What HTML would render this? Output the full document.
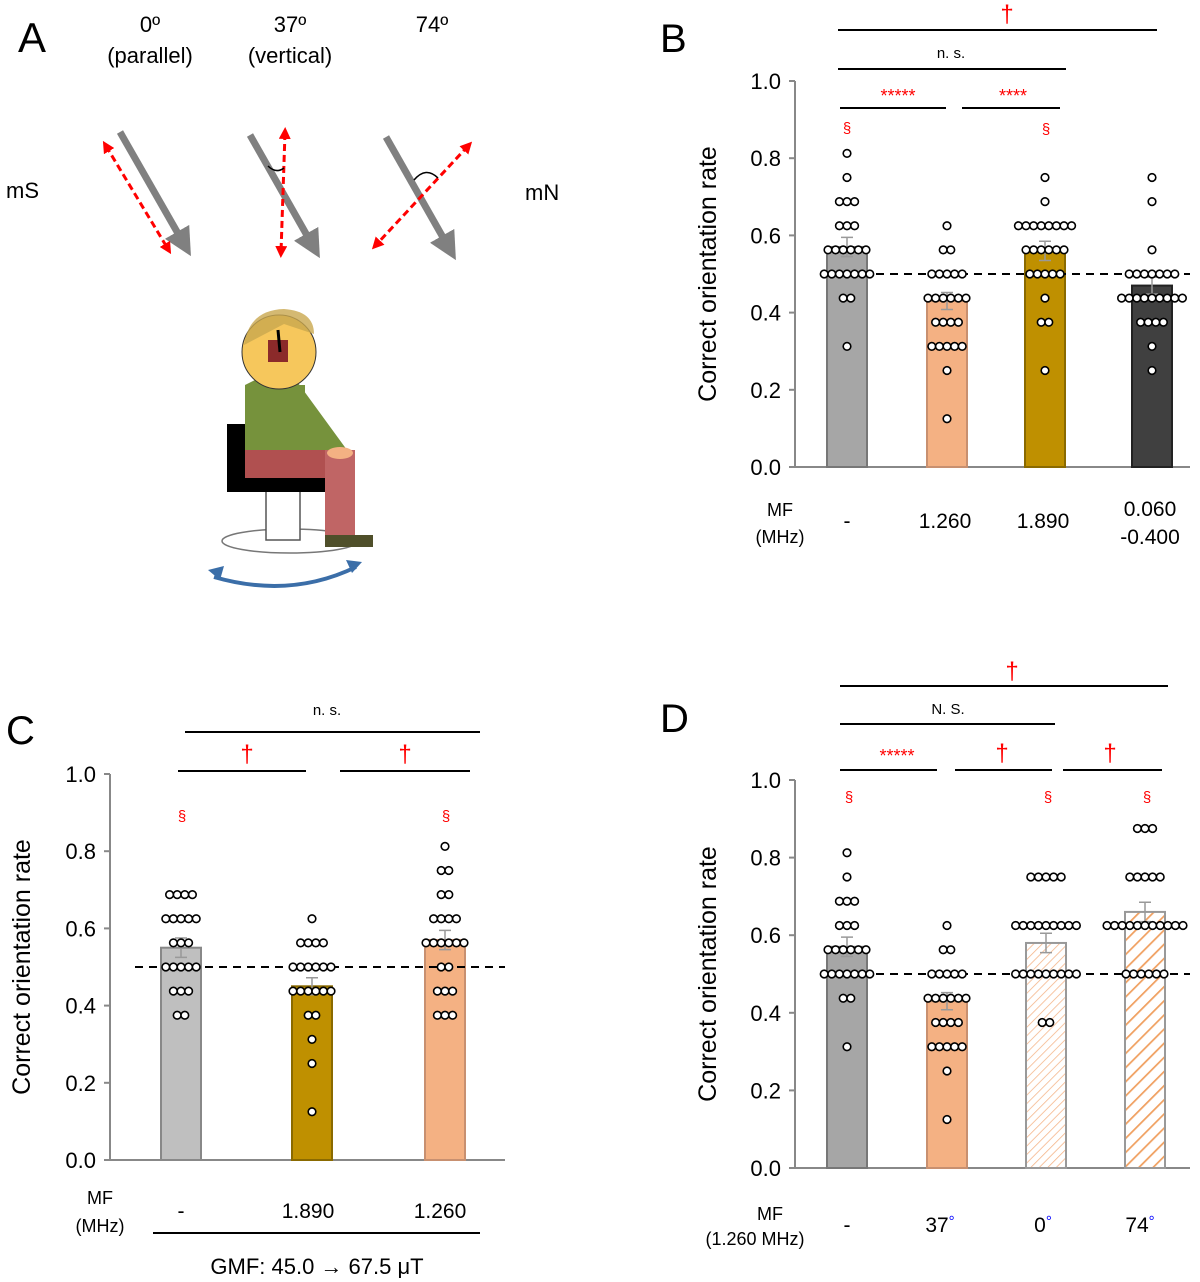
<!DOCTYPE html>
<html><head><meta charset="utf-8"><style>
body{margin:0;background:#fff}
svg{display:block;font-family:"Liberation Sans","DejaVu Sans",sans-serif}
</style></head><body>
<svg id="fig" width="1200" height="1282" viewBox="0 0 1200 1282" xmlns="http://www.w3.org/2000/svg">
<defs>
<pattern id="hatchLight" patternUnits="userSpaceOnUse" width="6" height="6" patternTransform="rotate(45)"><rect width="6" height="6" fill="#fff"/><line x1="0" y1="0" x2="0" y2="6" stroke="#f4b183" stroke-width="1.5"/></pattern>
<pattern id="hatchBold" patternUnits="userSpaceOnUse" width="10" height="10" patternTransform="rotate(45)"><rect width="10" height="10" fill="#fff"/><line x1="0" y1="0" x2="0" y2="10" stroke="#f0a060" stroke-width="3.5"/></pattern>
<marker id="ag" markerWidth="4" markerHeight="4" refX="2" refY="2" orient="auto"><path d="M0,0 L4,2 L0,4 z" fill="#808080"/></marker>
<marker id="ar" markerWidth="4" markerHeight="4" refX="2" refY="2" orient="auto-start-reverse"><path d="M0,0 L4,2 L0,4 z" fill="#f00"/></marker>
</defs>

<!-- Panel A -->
<g>
<text x="18" y="52" font-size="42">A</text>
<text x="150" y="32" font-size="22" text-anchor="middle">0º</text>
<text x="150" y="63" font-size="22" text-anchor="middle">(parallel)</text>
<text x="290" y="32" font-size="22" text-anchor="middle">37º</text>
<text x="290" y="63" font-size="22" text-anchor="middle">(vertical)</text>
<text x="432" y="32" font-size="22" text-anchor="middle">74º</text>
<text x="6" y="198" font-size="22">mS</text>
<text x="525" y="200" font-size="22">mN</text>
<g stroke="#808080" stroke-width="7">
<line x1="120" y1="132" x2="184" y2="244" marker-end="url(#ag)"/>
<line x1="250" y1="135" x2="313" y2="246" marker-end="url(#ag)"/>
<line x1="386" y1="137" x2="449" y2="248" marker-end="url(#ag)"/>
</g>
<g stroke="#f00" stroke-width="3" stroke-dasharray="7,4" fill="none">
<line x1="106" y1="146" x2="168" y2="249" marker-start="url(#ar)" marker-end="url(#ar)"/>
<line x1="285" y1="133" x2="281" y2="252" marker-start="url(#ar)" marker-end="url(#ar)"/>
<line x1="468" y1="146" x2="376" y2="245" marker-start="url(#ar)" marker-end="url(#ar)"/>
</g>
<path d="M268,166 q8,8 16,2" stroke="#000" fill="none" stroke-width="1.5"/>
<path d="M414,180 q12,-14 24,-2" stroke="#000" fill="none" stroke-width="1.5"/>
<g>
<ellipse cx="290" cy="541" rx="68" ry="12" fill="none" stroke="#777" stroke-width="1.5"/>
<rect x="266" y="490" width="34" height="50" fill="#fff" stroke="#555" stroke-width="1.5"/>
<rect x="227" y="424" width="18" height="68" fill="#000"/>
<rect x="227" y="474" width="106" height="18" fill="#000"/>
<path d="M245,385 l40,-20 l62,85 l-102,0 z" fill="#76923c"/>
<rect x="245" y="385" width="60" height="65" fill="#76923c"/>
<circle cx="279" cy="352" r="37" fill="#f6c75c" stroke="#333" stroke-width="1"/>
<path d="M244,345 q5,-35 40,-36 q30,2 30,25 l-30,-10 z" fill="#c9a84f" opacity="0.8"/>
<rect x="268" y="340" width="20" height="22" fill="#8b2a2a"/>
<line x1="278" y1="330" x2="280" y2="352" stroke="#000" stroke-width="3"/>
<rect x="245" y="450" width="110" height="28" fill="#b05050"/>
<rect x="325" y="450" width="30" height="85" fill="#c06565"/>
<rect x="325" y="535" width="48" height="12" fill="#4f4f2a"/>
<ellipse cx="340" cy="453" rx="13" ry="6" fill="#f4b183"/>
<path d="M214,577 q76,22 142,-10" stroke="#3b6ea8" stroke-width="4" fill="none"/>
<path d="M208,570 l16,-4 l-4,14 z" fill="#3b6ea8"/>
<path d="M362,562 l-16,-2 l6,13 z" fill="#3b6ea8"/>
</g>
</g>
</svg>
<script>
// ---------- Data ----------
const ticks = [0.0, 0.2, 0.4, 0.6, 0.8, 1.0];
const tickLabels = ["0.0", "0.2", "0.4", "0.6", "0.8", "1.0"];
const chance = 0.5;

const bCategories = ["-", "1.260", "1.890", "0.060\n-0.400"];
const bMeans = [0.57, 0.43, 0.56, 0.47];
const bErrors = [0.025, 0.022, 0.025, 0.022];
const bDotValues = [
  [0.8125,0.75,0.6875,0.625,0.5625,0.5,0.4375,0.3125],
  [0.625,0.5625,0.5,0.4375,0.375,0.3125,0.25,0.125],
  [0.75,0.6875,0.625,0.5625,0.5,0.4375,0.375,0.25],
  [0.75,0.6875,0.5625,0.5,0.4375,0.375,0.3125,0.25]
];
const bDotCounts = [
  [1,1,3,3,6,7,2,1],
  [1,2,5,6,4,5,1,1],
  [1,1,8,6,5,1,2,1],
  [1,1,1,7,9,4,1,1]
];

const cCategories = ["-", "1.890", "1.260"];
const cMeans = [0.55, 0.45, 0.57];
const cErrors = [0.025, 0.022, 0.025];
const cDotValues = [
  [0.6875,0.625,0.5625,0.5,0.4375,0.375],
  [0.625,0.5625,0.5,0.4375,0.375,0.3125,0.25,0.125],
  [0.8125,0.75,0.6875,0.625,0.5625,0.5,0.4375,0.375]
];
const cDotCounts = [
  [4,5,3,5,3,2],
  [1,4,6,6,2,1,1,1],
  [1,2,2,4,6,2,3,3]
];

const dCategories = ["-", "37", "0", "74"];
const dMeans = [0.57, 0.43, 0.58, 0.66];
const dErrors = [0.025, 0.022, 0.025, 0.025];
const dDotValues = [
  [0.8125,0.75,0.6875,0.625,0.5625,0.5,0.4375,0.3125],
  [0.625,0.5625,0.5,0.4375,0.375,0.3125,0.25,0.125],
  [0.75,0.625,0.5,0.375],
  [0.875,0.75,0.625,0.5]
];
const dDotCounts = [
  [1,1,3,3,6,7,2,1],
  [1,2,5,6,4,5,1,1],
  [5,9,9,2],
  [3,5,11,6]
];

// ---------- Drawing ----------
const NS = "http://www.w3.org/2000/svg";
const svg = document.getElementById("fig");
function mk(tag, attrs, parent, text) {
  const e = document.createElementNS(NS, tag);
  for (const k in attrs) e.setAttribute(k, attrs[k]);
  if (text !== undefined) e.textContent = text;
  (parent || svg).appendChild(e);
  return e;
}

function panel(cfg) {
  const g = mk("g", {});
  
  
  const y = v => cfg.y0 - v * (cfg.y0 - cfg.y1);
  // y axis
  const ax = mk("line", {x1: cfg.ax, y1: y(0), x2: cfg.ax, y2: y(1), stroke: "#888", "stroke-width": 2}, g);
  
  
  ticks.forEach((t, i) => {
    mk("line", {x1: cfg.ax - 6, y1: y(t), x2: cfg.ax, y2: y(t), stroke: "#888", "stroke-width": 2}, g);
    const tl = mk("text", {x: cfg.ax - 14, y: y(t) + 8, "font-size": 22, "text-anchor": "end"}, g, tickLabels[i]);
    
    
  });
  const xa = mk("line", {x1: cfg.ax, y1: y(0), x2: cfg.xEnd, y2: y(0), stroke: "#888", "stroke-width": 2}, g);
  
  
  const tt = mk("text", {x: 0, y: 0, "font-size": 25, "text-anchor": "middle", transform: `translate(${cfg.titleX},${y(0.5)}) rotate(-90)`}, g, "Correct orientation rate");
  
  
  // bars
  cfg.means.forEach((m, i) => {
    const cx = cfg.centers[i];
    const b = mk("rect", {x: cx - 20, y: y(m), width: 40, height: y(0) - y(m), fill: cfg.fills[i], stroke: cfg.strokes[i], "stroke-width": 2}, g);
    
    
    const e = cfg.errors[i];
    const eb = mk("path", {d: `M${cx},${y(m - e)}V${y(m + e)}M${cx - 6},${y(m + e)}H${cx + 6}M${cx - 6},${y(m - e)}H${cx + 6}`, stroke: "#999", "stroke-width": 1.5, fill: "none"}, g);
    
    
  });
  // chance line
  const dl = mk("line", {x1: cfg.ax + 25, y1: y(chance), x2: cfg.xEnd, y2: y(chance), stroke: "#000", "stroke-width": 2, "stroke-dasharray": "8,6"}, g);
  
  
  // dots
  cfg.dotValues.forEach((vals, i) => {
    vals.forEach((v, j) => {
      const n = cfg.dotCounts[i][j];
      for (let k = 0; k < n; k++) {
        const c = mk("circle", {cx: cfg.centers[i] + (k - (n - 1) / 2) * 7.6, cy: y(v), r: 3.8, fill: "#fff", stroke: "#000", "stroke-width": 1.6}, g);
        
        
      }
    });
  });
  return {g, y};
}

function txt(x, yy, s, size, color, name, anchor) {
  const t = mk("text", {x: x, y: yy, "font-size": size, fill: color || "#000", "text-anchor": anchor || "middle"}, svg, s);
  
  
  return t;
}
function hl(x1, x2, yy, name) {
  const l = mk("line", {x1, y1: yy, x2, y2: yy, stroke: "#000", "stroke-width": 2});
  
  
}

// Panel B
panel({name: "panel-b-chart", ax: 795, y0: 467, y1: 81, xEnd: 1190, titleX: 716,
  centers: [847, 947, 1045, 1152], means: bMeans, errors: bErrors,
  fills: ["#a6a6a6", "#f4b183", "#bf9000", "#404040"], strokes: ["#777", "#c89070", "#8a6a00", "#222"],
  dotValues: bDotValues, dotCounts: bDotCounts});
txt(660, 52, "B", 40, "#000", "panel-b-label", "start");
hl(838, 1157, 30, "sig-line-b-all"); txt(1007, 22, "†", 24, "#f00", "sig-mark");
hl(838, 1066, 69, "sig-line-b-ns"); txt(951, 58, "n. s.", 15, "#000", "sig-label-ns");
hl(840, 946, 108, "sig-line-b-1"); txt(898, 102, "*****", 18, "#f00", "sig-mark");
hl(962, 1060, 108, "sig-line-b-2"); txt(1013, 102, "****", 18, "#f00", "sig-mark");
txt(847, 133, "§", 15, "#f00", "sig-section"); txt(1046, 134, "§", 15, "#f00", "sig-section");
txt(780, 516, "MF", 18, "#000", "x-label-mf"); txt(780, 543, "(MHz)", 18, "#000", "x-label-unit");
bCategories.forEach((c, i) => {
  const cx = [847, 945, 1043, 1150][i];
  const parts = c.split("\n");
  if (parts.length > 1) { txt(cx, 516, parts[0], 21, "#000", "x-category-label"); txt(cx, 544, parts[1], 21, "#000", "x-category-label"); }
  else txt(cx, 528, c, 21, "#000", "x-category-label");
});

// Panel C
panel({name: "panel-c-chart", ax: 110, y0: 1160, y1: 774, xEnd: 505, titleX: 30,
  centers: [181, 312, 445], means: cMeans, errors: cErrors,
  fills: ["#bfbfbf", "#bf9000", "#f4b183"], strokes: ["#888", "#8a6a00", "#c89070"],
  dotValues: cDotValues, dotCounts: cDotCounts});
txt(6, 744, "C", 40, "#000", "panel-c-label", "start");
hl(185, 480, 732, "sig-line-c-ns"); txt(327, 715, "n. s.", 15, "#000", "sig-label-ns");
hl(178, 306, 771, "sig-line-c-1"); txt(247, 762, "†", 24, "#f00", "sig-mark");
hl(340, 470, 771, "sig-line-c-2"); txt(405, 762, "†", 24, "#f00", "sig-mark");
txt(182, 821, "§", 15, "#f00", "sig-section"); txt(446, 821, "§", 15, "#f00", "sig-section");
txt(100, 1204, "MF", 18, "#000", "x-label-mf"); txt(100, 1232, "(MHz)", 18, "#000", "x-label-unit");
cCategories.forEach((c, i) => txt([181, 308, 440][i], 1218, c, 21, "#000", "x-category-label"));
hl(153, 480, 1233, "gmf-line");
txt(317, 1274, "GMF:  45.0 → 67.5 μT", 22, "#000", "gmf-label");

// Panel D
panel({name: "panel-d-chart", ax: 795, y0: 1168, y1: 780, xEnd: 1190, titleX: 716,
  centers: [847, 947, 1046, 1145], means: dMeans, errors: dErrors,
  fills: ["#a6a6a6", "#f4b183", "url(#hatchLight)", "url(#hatchBold)"], strokes: ["#777", "#c89070", "#999", "#999"],
  dotValues: dDotValues, dotCounts: dDotCounts});
txt(660, 732, "D", 40, "#000", "panel-d-label", "start");
hl(840, 1168, 686, "sig-line-d-all"); txt(1012, 679, "†", 24, "#f00", "sig-mark");
hl(840, 1055, 724, "sig-line-d-ns"); txt(948, 714, "N. S.", 15, "#000", "sig-label-ns");
hl(840, 937, 770, "sig-line-d-1"); txt(897, 762, "*****", 18, "#f00", "sig-mark");
hl(955, 1052, 770, "sig-line-d-2"); txt(1002, 761, "†", 24, "#f00", "sig-mark");
hl(1063, 1162, 770, "sig-line-d-3"); txt(1110, 761, "†", 24, "#f00", "sig-mark");
txt(849, 802, "§", 15, "#f00", "sig-section"); txt(1048, 802, "§", 15, "#f00", "sig-section"); txt(1147, 802, "§", 15, "#f00", "sig-section");
txt(770, 1220, "MF", 18, "#000", "x-label-mf"); txt(755, 1245, "(1.260 MHz)", 18, "#000", "x-label-unit");
dCategories.forEach((c, i) => {
  const cx = [847, 940, 1043, 1140][i];
  const t = txt(cx, 1232, c, 21, "#000", "x-category-label");
  if (c !== "-") { const s = mk("tspan", {fill: "#00f", "font-size": 15, dy: -6}, t, "°"); }
});
</script>
</body></html>
